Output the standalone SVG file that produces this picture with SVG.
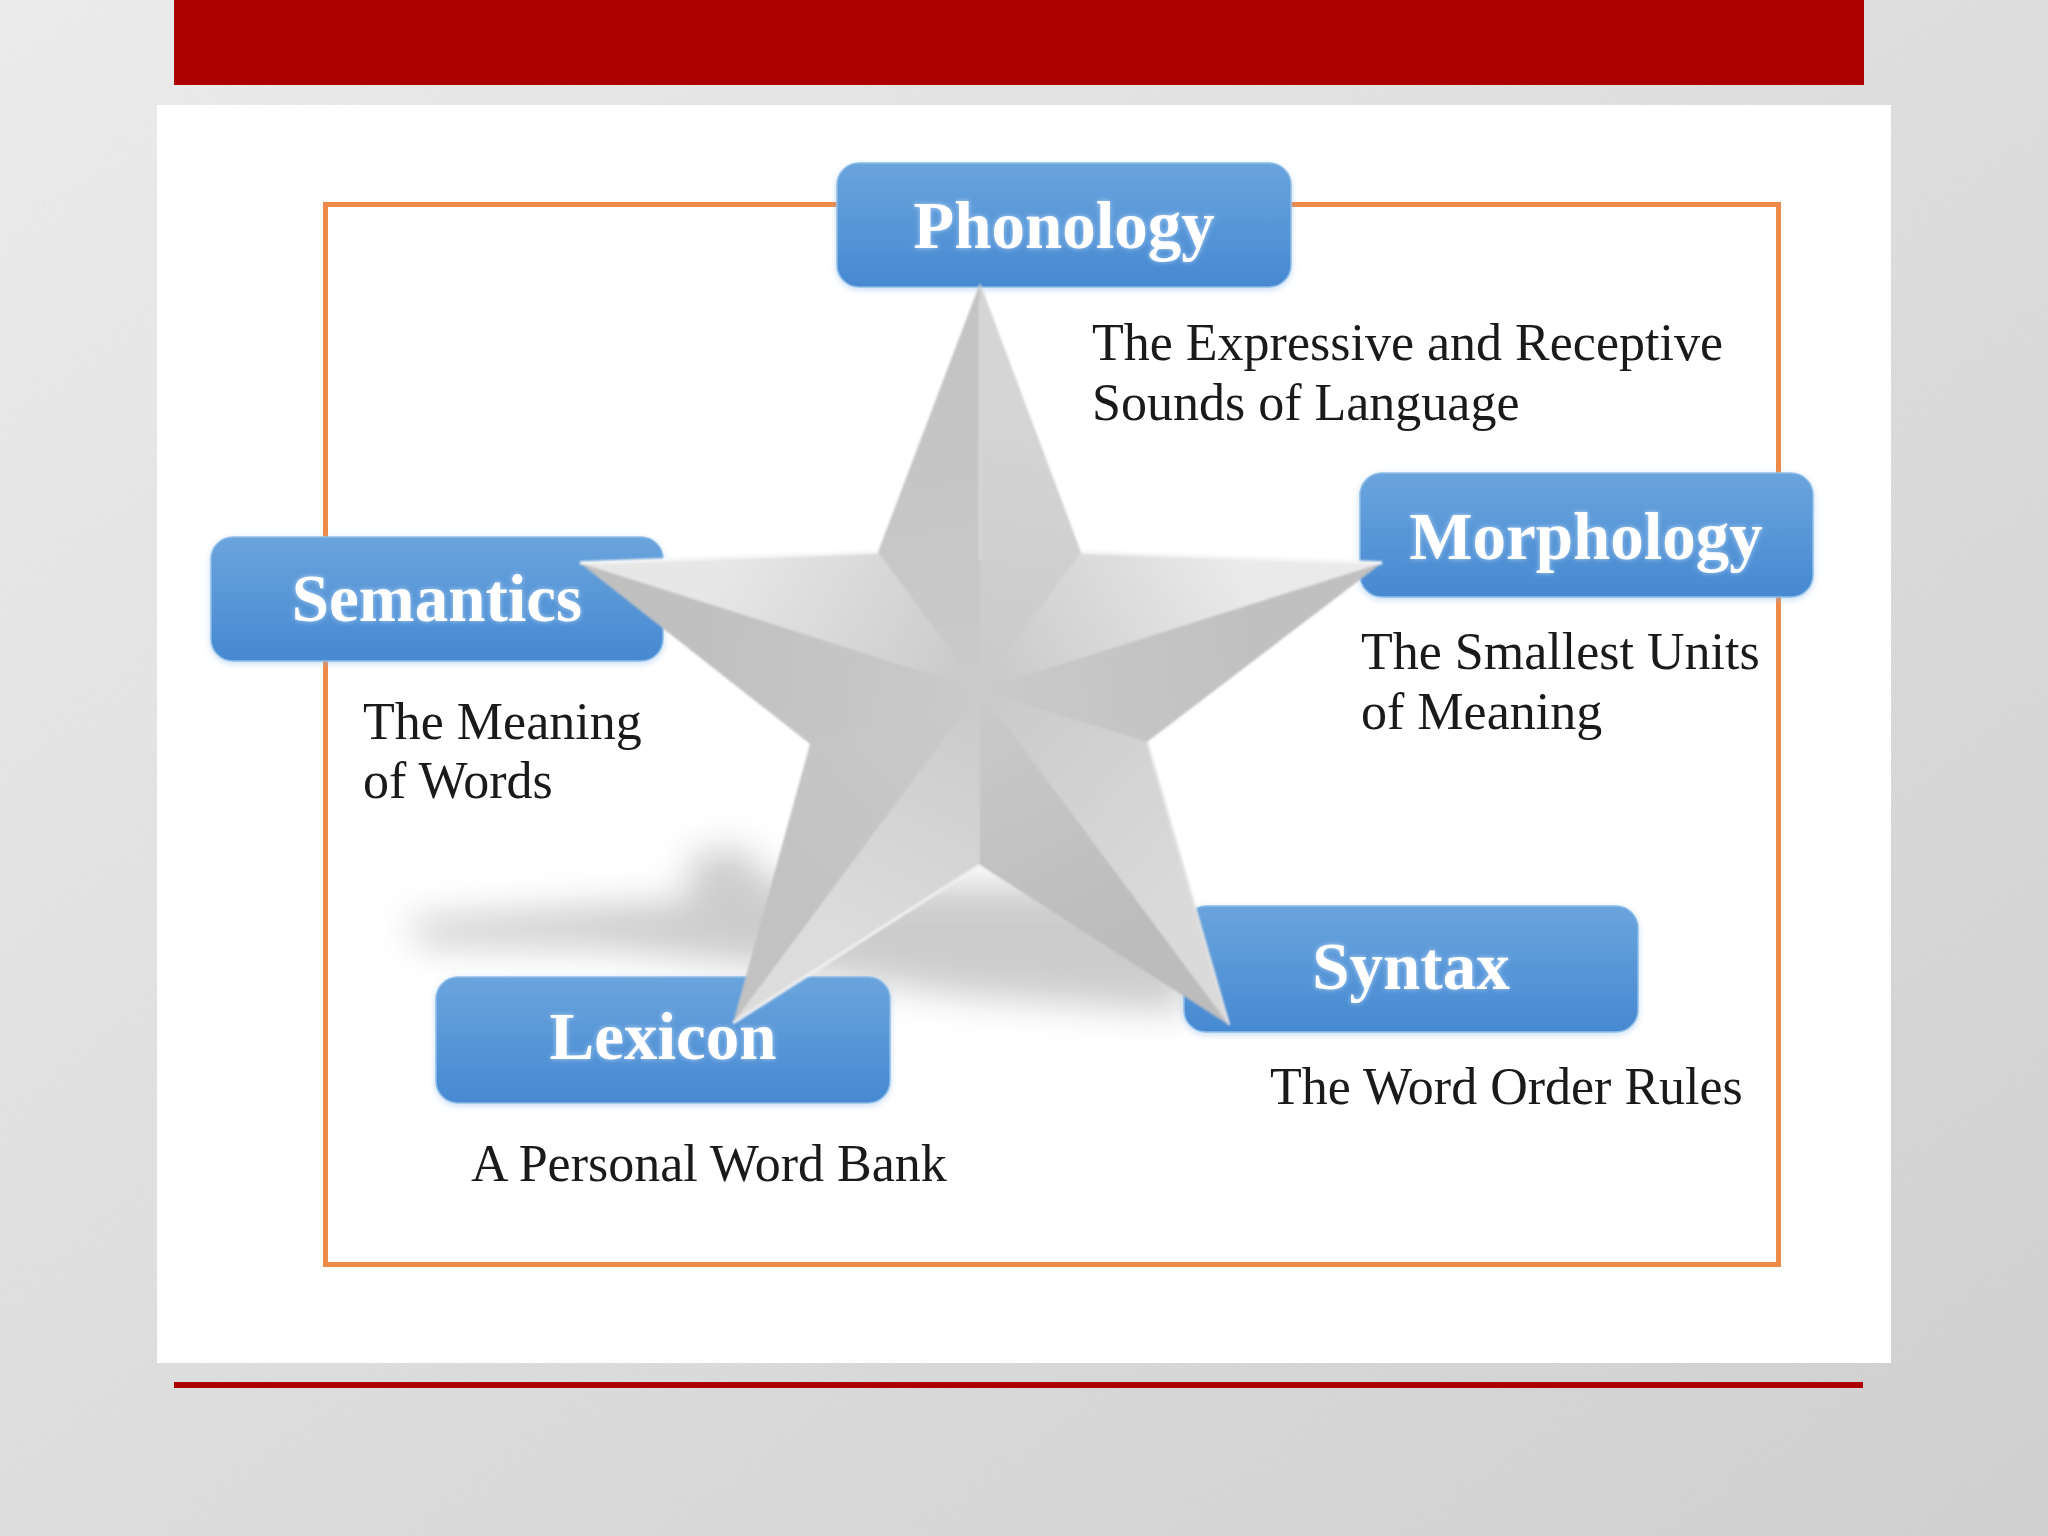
<svg xmlns="http://www.w3.org/2000/svg" width="2048" height="1536" viewBox="0 0 2048 1536">
  <defs>
    <linearGradient id="bg" x1="0" y1="0" x2="1" y2="1">
      <stop offset="0" stop-color="#f1f1f1"/>
      <stop offset="0.5" stop-color="#e1e1e1"/>
      <stop offset="1" stop-color="#d2d2d2"/>
    </linearGradient>
    <linearGradient id="boxFill" x1="0" y1="0" x2="0" y2="1">
      <stop offset="0" stop-color="#6aa4dd"/>
      <stop offset="1" stop-color="#4689d1"/>
    </linearGradient>
    <!-- star facet tints: from outer edge midpoint towards the centre -->
    <linearGradient id="f1" gradientUnits="userSpaceOnUse" x1="929" y1="418" x2="980" y2="690">
      <stop offset="0" stop-color="#000" stop-opacity="0.03"/><stop offset="1" stop-color="#000" stop-opacity="0"/>
    </linearGradient>
    <linearGradient id="f2" gradientUnits="userSpaceOnUse" x1="1031" y1="418" x2="980" y2="690">
      <stop offset="0" stop-color="#fff" stop-opacity="0.2"/><stop offset="1" stop-color="#fff" stop-opacity="0"/>
    </linearGradient>
    <linearGradient id="f3" gradientUnits="userSpaceOnUse" x1="1231" y1="558" x2="1000" y2="690">
      <stop offset="0" stop-color="#fff" stop-opacity="0.6"/><stop offset="1" stop-color="#fff" stop-opacity="0"/>
    </linearGradient>
    <linearGradient id="f4" gradientUnits="userSpaceOnUse" x1="1265" y1="652" x2="980" y2="690">
      <stop offset="0" stop-color="#000" stop-opacity="0.05"/><stop offset="1" stop-color="#000" stop-opacity="0"/>
    </linearGradient>
    <linearGradient id="f5" gradientUnits="userSpaceOnUse" x1="1188" y1="883" x2="980" y2="690">
      <stop offset="0" stop-color="#fff" stop-opacity="0.3"/><stop offset="1" stop-color="#fff" stop-opacity="0"/>
    </linearGradient>
    <linearGradient id="f6" gradientUnits="userSpaceOnUse" x1="1105" y1="945" x2="980" y2="690">
      <stop offset="0" stop-color="#000" stop-opacity="0.07"/><stop offset="1" stop-color="#000" stop-opacity="0"/>
    </linearGradient>
    <linearGradient id="f7" gradientUnits="userSpaceOnUse" x1="857" y1="944" x2="980" y2="690">
      <stop offset="0" stop-color="#fff" stop-opacity="0.35"/><stop offset="1" stop-color="#fff" stop-opacity="0"/>
    </linearGradient>
    <linearGradient id="f8" gradientUnits="userSpaceOnUse" x1="772" y1="884" x2="980" y2="690">
      <stop offset="0" stop-color="#000" stop-opacity="0.04"/><stop offset="1" stop-color="#000" stop-opacity="0"/>
    </linearGradient>
    <linearGradient id="f9" gradientUnits="userSpaceOnUse" x1="695" y1="654" x2="980" y2="690">
      <stop offset="0" stop-color="#000" stop-opacity="0.05"/><stop offset="1" stop-color="#000" stop-opacity="0"/>
    </linearGradient>
    <linearGradient id="f10" gradientUnits="userSpaceOnUse" x1="729" y1="558" x2="960" y2="690">
      <stop offset="0" stop-color="#fff" stop-opacity="0.55"/><stop offset="1" stop-color="#fff" stop-opacity="0"/>
    </linearGradient>
    <filter id="noise" x="0" y="0" width="100%" height="100%">
      <feTurbulence type="fractalNoise" baseFrequency="0.8" numOctaves="2" seed="3"/>
      <feColorMatrix type="matrix" values="0 0 0 0 0.5  0 0 0 0 0.5  0 0 0 0 0.5  0 0 0 0.22 0"/>
      <feComposite in2="SourceGraphic" operator="in"/>
    </filter>
    <filter id="shadowBlur" x="-20%" y="-50%" width="140%" height="200%">
      <feGaussianBlur stdDeviation="18"/>
    </filter>
    <filter id="soft" x="-5%" y="-5%" width="110%" height="110%">
      <feGaussianBlur stdDeviation="0.8"/>
    </filter>
    <filter id="glow" x="-10%" y="-30%" width="120%" height="160%">
      <feGaussianBlur in="SourceAlpha" stdDeviation="2.5" result="b"/>
      <feFlood flood-color="#cfe6ff" flood-opacity="0.7"/>
      <feComposite in2="b" operator="in" result="g"/>
      <feMerge><feMergeNode in="g"/><feMergeNode in="SourceGraphic"/></feMerge>
    </filter>
    <filter id="boxShadow" x="-5%" y="-10%" width="110%" height="130%">
      <feGaussianBlur in="SourceAlpha" stdDeviation="3" result="b"/>
      <feOffset dy="2" result="o"/>
      <feFlood flood-color="#7fb2e6" flood-opacity="0.45"/>
      <feComposite in2="o" operator="in" result="s"/>
      <feMerge><feMergeNode in="s"/><feMergeNode in="SourceGraphic"/></feMerge>
    </filter>
  </defs>
  <style>
    .box { fill: url(#boxFill); stroke: #8dbde9; stroke-width: 1.5; }
    .label { font-family: "Liberation Serif", "Times New Roman", serif; font-weight: bold; font-size: 67px; fill: #ffffff; text-anchor: middle; }
    .desc { font-family: "Liberation Serif", "Times New Roman", serif; font-size: 52px; fill: #1a1a1a; }
    .red { fill: #ac0000; }
  </style>

  <!-- background -->
  <rect x="0" y="0" width="2048" height="1536" fill="url(#bg)"/>
  <rect x="0" y="0" width="2048" height="1536" fill="#ffffff" filter="url(#noise)"/>

  <!-- header and footer bars -->
  <rect class="red" x="174" y="0" width="1690" height="85"/>
  <rect class="red" x="174" y="1382" width="1689" height="6"/>

  <!-- white panel -->
  <rect x="157" y="105" width="1734" height="1258" fill="#ffffff"/>

  <!-- orange frame -->
  <rect x="325.5" y="204.5" width="1453" height="1060" fill="none" stroke="#ee8a48" stroke-width="5"/>

  <!-- star shadow -->
  <polygon points="690,855 745,848 770,885 1150,885 1195,965 1180,1012 960,995 760,965 600,948 425,945 405,920 690,900" fill="#9a9a9a" opacity="0.5" filter="url(#shadowBlur)"/>

  <!-- nodes -->
  <g id="phonology" filter="url(#boxShadow)">
    <rect class="box" x="837" y="163" width="454" height="124" rx="22"/>
  </g>
  <g id="morphology" filter="url(#boxShadow)">
    <rect class="box" x="1360" y="473" width="453" height="124" rx="22"/>
  </g>
  <g id="semantics" filter="url(#boxShadow)">
    <rect class="box" x="211" y="537" width="452" height="124" rx="22"/>
  </g>
  <g id="syntax" filter="url(#boxShadow)">
    <rect class="box" x="1184" y="906" width="454" height="126" rx="22"/>
  </g>
  <g id="lexicon" filter="url(#boxShadow)">
    <rect class="box" x="436" y="977" width="454" height="126" rx="22"/>
  </g>

  <!-- central star -->
  <g id="star" filter="url(#soft)">
    <polygon points="980,283 1081,552 1382,563 1147,742 1229,1025 980,865 733,1023 810,744 580,563 878,552" fill="#cacaca"/>
    <polygon points="980,690 878,552 980,283" fill="url(#f1)"/>
    <polygon points="980,690 980,283 1081,552" fill="url(#f2)"/>
    <polygon points="980,690 1081,552 1382,563" fill="url(#f3)"/>
    <polygon points="980,690 1382,563 1147,742" fill="url(#f4)"/>
    <polygon points="980,690 1147,742 1229,1025" fill="url(#f5)"/>
    <polygon points="980,690 1229,1025 980,865" fill="url(#f6)"/>
    <polygon points="980,690 980,865 733,1023" fill="url(#f7)"/>
    <polygon points="980,690 733,1023 810,744" fill="url(#f8)"/>
    <polygon points="980,690 810,744 580,563" fill="url(#f9)"/>
    <polygon points="980,690 580,563 878,552" fill="url(#f10)"/>
    <!-- highlight edges -->
    <polyline points="580,563 878,552" fill="none" stroke="#f6f6f6" stroke-width="3.5"/>
    <polyline points="1081,552 1382,563" fill="none" stroke="#f6f6f6" stroke-width="3.5"/>
    <polyline points="733,1023 980,865" fill="none" stroke="#f0f0f0" stroke-width="3"/>
    <polyline points="1147,742 1229,1025" fill="none" stroke="#e4e4e4" stroke-width="2.5"/>
    <polyline points="980,300 980,560" fill="none" stroke="#dadada" stroke-width="3" opacity="0.8"/>
  </g>

  <!-- node labels -->
  <g id="labels" filter="url(#glow)">
    <text class="label" x="1064" y="248">Phonology</text>
    <text class="label" x="1586" y="559">Morphology</text>
    <text class="label" x="437" y="621">Semantics</text>
    <text class="label" x="1411" y="989">Syntax</text>
    <text class="label" x="663" y="1059">Lexicon</text>
  </g>

  <!-- descriptions -->
  <g id="descriptions">
    <text class="desc" x="1092" y="360">The Expressive and Receptive</text>
    <text class="desc" x="1092" y="420">Sounds of Language</text>
    <text class="desc" x="1361" y="669">The Smallest Units</text>
    <text class="desc" x="1361" y="729">of Meaning</text>
    <text class="desc" x="363" y="739">The Meaning</text>
    <text class="desc" x="363" y="798">of Words</text>
    <text class="desc" x="1270" y="1104">The Word Order Rules</text>
    <text class="desc" x="471" y="1181">A Personal Word Bank</text>
  </g>
</svg>
